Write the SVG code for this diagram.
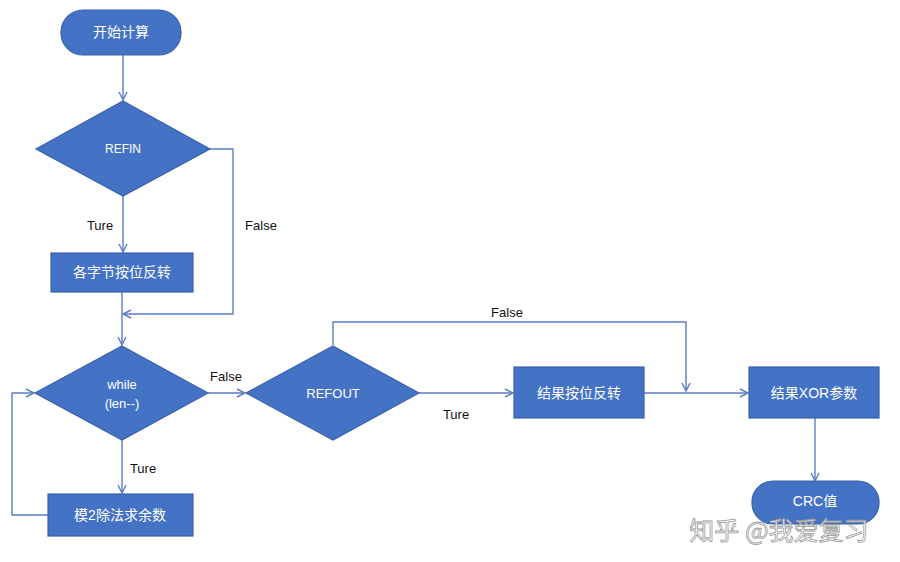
<svg xmlns="http://www.w3.org/2000/svg" width="900" height="562" viewBox="0 0 900 562">
<defs>
<marker id="arr" viewBox="0 0 10 10" refX="9" refY="5" markerWidth="10" markerHeight="10" markerUnits="userSpaceOnUse" orient="auto">
<path d="M1,1 L9,5 L1,9" fill="none" stroke="#5A7DC0" stroke-width="1.4"/>
</marker>
</defs>
<style>
.n{fill:#4472C4;stroke:#3A62AA;stroke-width:1.2}
.t{fill:#fff;font-family:"Liberation Sans","Noto Sans CJK SC",sans-serif;font-size:14px;text-anchor:middle;dominant-baseline:central}
.c{fill:none;stroke:#5A7DC0;stroke-width:1.4}
.l{fill:#111;font-family:"Liberation Sans","Noto Sans CJK SC",sans-serif;font-size:13px;text-anchor:middle;dominant-baseline:central}
</style>
<rect width="900" height="562" fill="#fff"/>
<g id="connectors">
<path class="c" d="M123,55 V100" marker-end="url(#arr)"/>
<path class="c" d="M123,196 V252" marker-end="url(#arr)"/>
<path class="c" d="M210,149 H233 V314 H123" marker-end="url(#arr)"/>
<path class="c" d="M122,292 V345" marker-end="url(#arr)"/>
<path class="c" d="M122,440 V493" marker-end="url(#arr)"/>
<path class="c" d="M48,515 H12 V393 H34" marker-end="url(#arr)"/>
<path class="c" d="M208,393 H245" marker-end="url(#arr)"/>
<path class="c" d="M333,345 V322 H686 V391" marker-end="url(#arr)"/>
<path class="c" d="M419,393 H513" marker-end="url(#arr)"/>
<path class="c" d="M644,393 H748" marker-end="url(#arr)"/>
<path class="c" d="M815,418 V481" marker-end="url(#arr)"/>
<text class="l" x="100" y="225">Ture</text>
<text class="l" x="261" y="225">False</text>
<text class="l" x="143" y="468">Ture</text>
<text class="l" x="226" y="376">False</text>
<text class="l" x="507" y="312">False</text>
<text class="l" x="456" y="414">Ture</text>
</g>
<g id="start">
<rect class="n" x="61" y="10" width="120" height="45" rx="22"/>
<text class="t" x="121" y="32">开始计算</text>
</g>
<g id="refin">
<polygon class="n" points="123,101 210,149 123,196 36,149"/>
<text class="t" x="123" y="149" style="font-size:12px">REFIN</text>
</g>
<g id="reverse-bytes">
<rect class="n" x="51" y="253" width="142" height="39"/>
<text class="t" x="122" y="272">各字节按位反转</text>
</g>
<g id="while">
<polygon class="n" points="122,346 208,393 122,440 35,393"/>
<text class="t" x="122" y="384" style="font-size:13px">while</text>
<text class="t" x="122" y="403" style="font-size:13px">(len--)</text>
</g>
<g id="mod2">
<rect class="n" x="48" y="494" width="145" height="42"/>
<text class="t" x="120" y="515">模2除法求余数</text>
</g>
<g id="refout">
<polygon class="n" points="333,346 419,393 333,440 246,393"/>
<text class="t" x="333" y="393" style="font-size:13px">REFOUT</text>
</g>
<g id="reverse-result">
<rect class="n" x="514" y="367" width="130" height="51"/>
<text class="t" x="579" y="393">结果按位反转</text>
</g>
<g id="xor">
<rect class="n" x="749" y="367" width="130" height="51"/>
<text class="t" x="814" y="393">结果XOR参数</text>
</g>
<g id="crc">
<rect class="n" x="752" y="481" width="127" height="43" rx="21"/>
<text class="t" x="815" y="501">CRC值</text>
</g>
<text x="779" y="529" style="fill:#fff;fill-opacity:0.75;stroke:#999;stroke-width:0.8;font-family:'Noto Sans CJK SC',sans-serif;font-size:25px;text-anchor:middle;dominant-baseline:central">知乎 @我爱复习</text>
</svg>
